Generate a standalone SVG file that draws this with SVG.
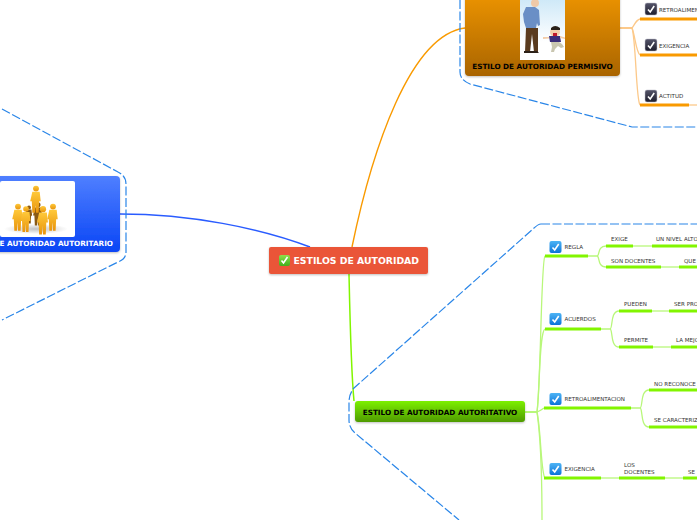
<svg xmlns="http://www.w3.org/2000/svg" width="697" height="520" viewBox="0 0 697 520">
<style>
text{font-family:"DejaVu Sans",Verdana,sans-serif;fill:#333}
.t{font-size:5.550px}
.b{font-size:7.250px;font-weight:bold;fill:#000}
.dash{fill:none;stroke:#2a86e8;stroke-width:1.200;stroke-dasharray:9 2.500}
.g{fill:none;stroke:#b8f77a;stroke-width:1.300}
.gb{fill:none;stroke:#82f500;stroke-width:3}
.o{fill:none;stroke:#fcc98a;stroke-width:1.300}
.ob{fill:none;stroke:#f99a00;stroke-width:3}
.ck{fill:none;stroke:#fff;stroke-width:1.600}
.sh{filter:url(#shadow)}
</style>
<defs>
<filter id="shadow" x="-5%" y="-10%" width="110%" height="125%"><feDropShadow dx="0" dy="1" stdDeviation="1" flood-color="#000" flood-opacity=".25"/></filter>
<linearGradient id="gBlue" x1="0" y1="0" x2="0" y2="1"><stop offset="0" stop-color="#4f7fff"/><stop offset="1" stop-color="#0a45f5"/></linearGradient>
<linearGradient id="gOrange" x1="0" y1="0" x2="0" y2="1"><stop offset="0" stop-color="#f89c00"/><stop offset="1" stop-color="#a96400"/></linearGradient>
<linearGradient id="gGreen" x1="0" y1="0" x2="0" y2="1"><stop offset="0" stop-color="#7cf000"/><stop offset="1" stop-color="#4f9a00"/></linearGradient>
<linearGradient id="gSky" x1="0" y1="0" x2="0" y2="1"><stop offset="0" stop-color="#cfe9f8"/><stop offset=".7" stop-color="#fff"/></linearGradient>
<linearGradient id="gCb" x1="0" y1="0" x2="0" y2="1"><stop offset="0" stop-color="#4db4f5"/><stop offset="1" stop-color="#0c73d8"/></linearGradient>
<linearGradient id="gCd" x1="0" y1="0" x2="0" y2="1"><stop offset="0" stop-color="#55556a"/><stop offset="1" stop-color="#1d1d2c"/></linearGradient>
<linearGradient id="gCg" x1="0" y1="0" x2="0" y2="1"><stop offset="0" stop-color="#8fe04a"/><stop offset="1" stop-color="#3fae1c"/></linearGradient>
<linearGradient id="gGold" x1="0" y1="0" x2="0" y2="1"><stop offset="0" stop-color="#ffc93a"/><stop offset="1" stop-color="#e8940c"/></linearGradient>
<radialGradient id="gFloor"><stop offset="0" stop-color="#999" stop-opacity=".6"/><stop offset="1" stop-color="#999" stop-opacity="0"/></radialGradient>
<g id="cbBlue"><rect width="12" height="12" rx="2" fill="url(#gCb)"/><path class="ck" d="M3 6.500l2.200 2.500 4-6"/></g>
<g id="cbDark"><rect width="12" height="12" rx="2" fill="url(#gCd)" stroke="#b9b9c4" stroke-width=".5"/><path class="ck" d="M3 6.500l2.200 2.500 4-6"/></g>
<g id="person"><circle cx="0" cy="-8" r="2.800"/><path d="M-3.500-5h7l1 9h-1.500l-.5 11h-2.500l-.5-8-.5 8h-2.500l-.5-11h-1.500z"/></g>
</defs>
<rect width="697" height="520" fill="#fff"/>

<g id="connectors">
<path d="M352 247C372 150 410 35 465 28" fill="none" stroke="#f99a00" stroke-width="1.400"/>
<path d="M120 214C190 214 260 228 310 247" fill="none" stroke="#2a5cff" stroke-width="1.400"/>
<path d="M349 274C350 320 351 370 354 401" fill="none" stroke="#82f500" stroke-width="1.500"/>

<path class="dash" d="M2 109L118 172Q126 176 126 184V252Q126 259 118 262L2 320"/>
<path class="dash" d="M460 0V72Q460 80 470 84L632 127H697"/>
<path class="dash" d="M541 224H697"/>
<path class="dash" d="M541 224Q538 224 533 229L354 388Q349 394 349 402V420Q349 428 355 433L459 520"/>

<path d="M620 28H632" stroke="#fcc98a" stroke-width="2" fill="none"/>
<path class="o" d="M632 28C635 24 636 20 640 19"/>
<path class="o" d="M632 28C635 35 636 52 640 55"/>
<path class="o" d="M632 28C636 40 636 100 640 105"/>
<path class="ob" d="M640 19H697"/><path class="ob" d="M640 55H697"/><path class="ob" d="M640 105H689"/><path class="o" d="M689 105H697"/>

<path d="M525 412H537" stroke="#b8f77a" stroke-width="2" fill="none"/>
<path class="g" d="M537 412C541 380 541 260 545 256"/>
<path class="g" d="M537 412C540 390 539 332 545 329"/>
<path class="g" d="M537 412Q540 411 544 408"/>
<path class="g" d="M537 412C541 430 541 474 545 478"/>
<path class="g" d="M537 412C541 440 542 490 542 520"/>

<path class="gb" d="M545 256H588"/><path class="gb" d="M545 329H601"/><path class="gb" d="M544 408H631"/><path class="gb" d="M544 478H601"/>
<path class="g" d="M588 256H597C600 256 597 246 606 246"/>
<path class="g" d="M597 256C600 256 597 267 606 267"/>
<path class="gb" d="M606 246H633"/><path class="g" d="M633 246H652"/><path class="gb" d="M652 246H697"/>
<path class="gb" d="M606 267H661"/><path class="g" d="M661 267H679"/><path class="gb" d="M679 267H697"/>
<path class="g" d="M601 329H610C613 329 610 311 619 311"/>
<path class="g" d="M610 329C613 329 610 347 619 347"/>
<path class="gb" d="M619 311H652"/><path class="g" d="M652 311H669"/><path class="gb" d="M669 311H697"/>
<path class="gb" d="M619 347H653"/><path class="g" d="M653 347H671"/><path class="gb" d="M671 347H697"/>
<path class="g" d="M631 408H640C643 408 640 390 649 390"/>
<path class="g" d="M640 408C643 408 640 427 649 427"/>
<path class="gb" d="M649 390H697"/><path class="gb" d="M649 427H697"/>
<path class="g" d="M601 478H619"/><path class="gb" d="M619 478H665"/><path class="g" d="M665 478H683"/><path class="gb" d="M683 478H697"/>
</g>

<g id="node-center">
<rect class="sh" x="269" y="247" width="159" height="27" rx="2" fill="#ea5539"/>
<rect x="279" y="255" width="11" height="11" rx="2" fill="url(#gCg)"/><path class="ck" d="M281.500 260.500l2 2.500 4-6"/>
<text x="293.500" y="264" style="font-size:9.300px;font-weight:bold;fill:#fff">ESTILOS DE AUTORIDAD</text>
</g>

<g id="node-autoritario">
<rect class="sh" x="-20" y="176" width="140" height="76" rx="4" fill="url(#gBlue)"/>
<rect x="0" y="181" width="75" height="56" rx="2" fill="#fff"/>
<ellipse cx="36" cy="229" rx="32" ry="5" fill="url(#gFloor)"/>
<g fill="#8a5a14"><use href="#person" transform="translate(29 213) scale(.7)"/><use href="#person" transform="translate(38 212) scale(.9)"/></g>
<g fill="url(#gGold)"><use href="#person" transform="translate(36 197) scale(1.050)"/><use href="#person" transform="translate(18 215) scale(1.050)"/><use href="#person" transform="translate(53 215) scale(1.050)"/><use href="#person" transform="translate(26 217)"/><use href="#person" transform="translate(43 218) scale(1.100)"/></g>
<text x="113" y="246" style="font-size:7.250px;font-weight:bold;fill:#fff" text-anchor="end">ESTILO DE AUTORIDAD AUTORITARIO</text>
</g>

<g id="node-permisivo">
<rect class="sh" x="465" y="-20" width="155" height="96" rx="4" fill="url(#gOrange)"/>
<rect x="520" y="0" width="45" height="60" fill="url(#gSky)"/>
<circle cx="535" cy="3" r="4" fill="#eec9a8"/>
<path d="M526 7h9l4 3 1 15-2 1-1-3-1 5h-10l-2-6-1-8z" fill="#6a8fc6"/>
<path d="M526 28h12l0 24h-4l-2-18-2 18h-5z" fill="#5a3b1e"/>
<path d="M524 51h7v2h-7zM531 51h6l2 2h-8z" fill="#2c2118"/>
<circle cx="555" cy="32" r="5" fill="#f2cdaa"/>
<path d="M551 28q4-4 9 0v2h-9z" fill="#2a2018"/><path d="M553 33h4v3h-4z" fill="#c0182c"/>
<path d="M549 36h11l1 6h-11z" fill="#3b2d7a"/>
<path d="M543 37l6 0v1.500l-6 .5zM560 36l5 1.500v1.500l-5-1z" fill="#f2cdaa"/>
<path d="M551 42h8l3 2 2 3-3 1-3-2-3 3-1 3h-3l1-5z" fill="#c9c6b0"/>
<text x="542.500" y="69" class="b" text-anchor="middle">ESTILO DE AUTORIDAD PERMISIVO</text>
</g>

<g id="node-autoritativo">
<rect class="sh" x="355" y="401" width="170" height="21" rx="3" fill="url(#gGreen)"/>
<text x="440" y="415" class="b" text-anchor="middle">ESTILO DE AUTORIDAD AUTORITATIVO</text>
</g>

<g id="orange-topics">
<use href="#cbDark" x="645" y="3"/><text class="t" x="659" y="12">RETROALIMENTACION</text>
<use href="#cbDark" x="645" y="39"/><text class="t" x="659" y="48">EXIGENCIA</text>
<use href="#cbDark" x="645" y="90"/><text class="t" x="659" y="98">ACTITUD</text>
</g>

<g id="green-topics">
<use href="#cbBlue" x="549.500" y="241"/><text class="t" x="564.500" y="249">REGLA</text>
<use href="#cbBlue" x="549.500" y="313"/><text class="t" x="564.500" y="321">ACUERDOS</text>
<use href="#cbBlue" x="549.500" y="393"/><text class="t" x="564.500" y="401">RETROALIMENTACION</text>
<use href="#cbBlue" x="549.500" y="463"/><text class="t" x="564.500" y="471">EXIGENCIA</text>
<text class="t" x="611" y="241">EXIGE</text><text class="t" x="656" y="241">UN NIVEL ALTO</text>
<text class="t" x="611" y="263">SON DOCENTES</text><text class="t" x="684" y="263">QUE</text>
<text class="t" x="624" y="306">PUEDEN</text><text class="t" x="674" y="306">SER PROACTIVOS</text>
<text class="t" x="624" y="342">PERMITE</text><text class="t" x="676" y="342">LA MEJOR</text>
<text class="t" x="654" y="386">NO RECONOCE</text>
<text class="t" x="654" y="422">SE CARACTERIZA</text>
<text class="t" x="624" y="467">LOS</text><text class="t" x="624" y="474">DOCENTES</text>
<text class="t" x="688" y="474">SE</text>
</g>
</svg>
